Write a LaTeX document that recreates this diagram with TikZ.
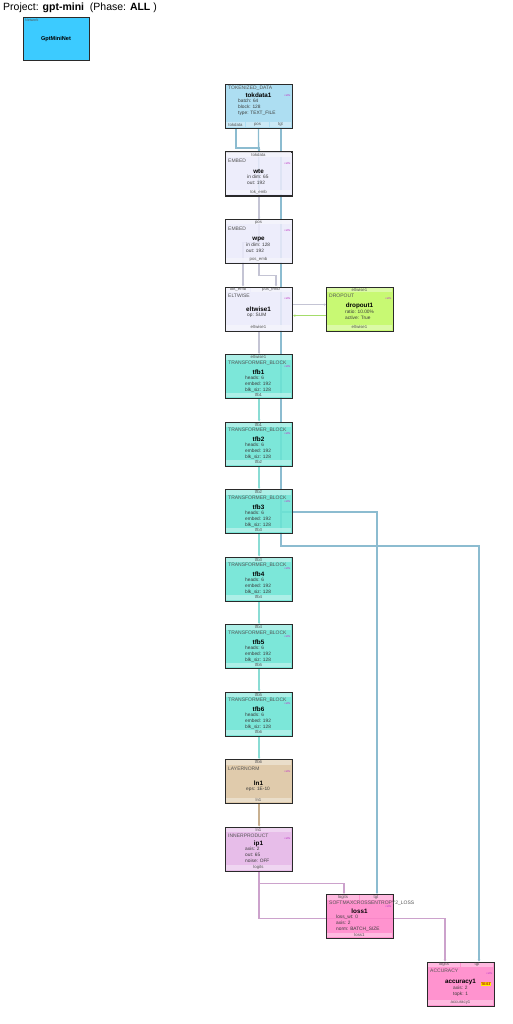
\documentclass[tikz,border=0pt]{standalone}
\usepackage{fontspec}
\setmainfont{Liberation Sans}
\usetikzlibrary{arrows.meta,backgrounds}
\definecolor{NetCyan}{HTML}{3CCBFF}
\definecolor{TokBlue}{HTML}{A2DAF0}
\definecolor{EmbLav}{HTML}{EAEAFA}
\definecolor{DropGreen}{HTML}{C0F860}
\definecolor{TfbTeal}{HTML}{6AE4D4}
\definecolor{LnTan}{HTML}{DCC4A0}
\definecolor{IpPlum}{HTML}{E4B4E6}
\definecolor{LossPink}{HTML}{FF84C8}
\definecolor{BoxEdge}{HTML}{2A2A2A}
\definecolor{TypeGray}{HTML}{555555}
\definecolor{ParamGray}{HTML}{3A3A3A}
\definecolor{TagMag}{HTML}{C040C8}
\definecolor{WireBlue}{HTML}{8CBCD0}
\definecolor{WireGray}{HTML}{C4C4D4}
\definecolor{WireTeal}{HTML}{8ADCD4}
\definecolor{WireGreen}{HTML}{A4DC6A}
\definecolor{WireTan}{HTML}{C8B090}
\definecolor{WirePlum}{HTML}{CCA2CC}

\begin{document}
\begin{tikzpicture}[x=1pt,y=-1pt,
  box/.style={draw=BoxEdge,line width=1.2pt,fill opacity=0.88,anchor=north west,minimum width=67pt,minimum height=44pt,inner sep=0pt},
  typelbl/.style={anchor=west,inner sep=0pt,text=TypeGray,font=\fontsize{5}{6}\selectfont},
  namelbl/.style={inner sep=0pt,font=\bfseries\fontsize{6.3}{7}\selectfont},
  paramlbl/.style={anchor=north west,inner sep=0pt,text=ParamGray,font=\fontsize{4.8}{6}\selectfont,align=left},
  portlbl/.style={inner sep=0pt,text=TypeGray,font=\fontsize{4.3}{5}\selectfont},
  enginelbl/.style={anchor=east,inner sep=0.3pt,text=TagMag,font=\fontsize{2.8}{3}\selectfont},
  wire/.style={line width=1.3pt,-{Stealth[length=2.2pt,width=2.6pt]}}]
  \useasboundingbox (0,0) rectangle (512,1024);

  \node[anchor=west,inner sep=0pt,font=\fontsize{10.5}{12}\selectfont] (title) at (3,8) {Project: \textbf{gpt-mini}\ \ (Phase: \textbf{ALL} )};
  \node[draw=BoxEdge,line width=1.2pt,fill=NetCyan,anchor=north west,minimum width=66pt,minimum height=43pt,inner sep=0pt] (net) at (23,17) {};
  \node[typelbl,font=\fontsize{3.6}{4}\selectfont] (net-type) at (25,20.5) {Network};
  \node[namelbl,font=\bfseries\fontsize{5.6}{6}\selectfont] (net-name) at (56,39) {GptMiniNet};

  \foreach \n/\bx/\by/\col/\ty/\tyy/\ny/\px/\prm in {
    tokdata1/225/84/TokBlue/TOKENIZED\_DATA/4/11/13/{batch: 64\\block: 128\\type: TEXT\_FILE},
    wte/225/151.5/EmbLav/EMBED/9.5/19.5/22/{in dim: 65\\out: 192},
    wpe/225/219/EmbLav/EMBED/10/20/21/{in dim: 128\\out: 192},
    eltwise1/225/286.5/EmbLav/ELTWISE/9.5/22.5/22/{op: SUM},
    dropout1/326/286.5/DropGreen/DROPOUT/9.5/19.5/19/{ratio: 10.00\%\\active: True},
    tfb1/225/354/TfbTeal/TRANSFORMER\_BLOCK/9/18/20/{heads: 6\\embed: 192\\blk\_siz: 128},
    tfb2/225/421.5/TfbTeal/TRANSFORMER\_BLOCK/9/18/20/{heads: 6\\embed: 192\\blk\_siz: 128},
    tfb3/225/489/TfbTeal/TRANSFORMER\_BLOCK/9/18/20/{heads: 6\\embed: 192\\blk\_siz: 128},
    tfb4/225/556.5/TfbTeal/TRANSFORMER\_BLOCK/9/18/20/{heads: 6\\embed: 192\\blk\_siz: 128},
    tfb5/225/624/TfbTeal/TRANSFORMER\_BLOCK/9/18/20/{heads: 6\\embed: 192\\blk\_siz: 128},
    tfb6/225/691.5/TfbTeal/TRANSFORMER\_BLOCK/9/18/20/{heads: 6\\embed: 192\\blk\_siz: 128},
    ln1/225/759/LnTan/LAYERNORM/10/24/21/{eps: 1E-10},
    ip1/225/826.5/IpPlum/INNERPRODUCT/9.5/17/20/{axis: 2\\out: 65\\noise: OFF},
    loss1/326/894/LossPink/SOFTMAXCROSSENTROPY2\_LOSS/9/17/10/{loss\_wt: 0\\axis: 2\\norm: BATCH\_SIZE},
    accuracy1/427/961.5/LossPink/ACCURACY/9.5/20.5/26/{axis: 2\\topk: 1}}{
    \node[box,fill=\col] (\n) at (\bx,\by) {};
    \node[typelbl] (\n-type) at (\bx+3,\by+\tyy) {\ty};
    \node[enginelbl] (\n-engine) at (\bx+66,\by+12) {caffe};
    \node[namelbl] (\n-name) at (\bx+33.5,\by+\ny) {\n};
    \node[paramlbl] (\n-params) at (\bx+\px,\by+\ny+3.8) {\prm};
  }
  \node[fill=yellow,text=red!70!black,inner sep=0.6pt,font=\bfseries\fontsize{3.8}{4}\selectfont] (accuracy1-test) at (486,984) {TEST};

  \foreach \a/\b/\y/\col/\txt [count=\k] in {
    226/245/122.5/TokBlue/tokdata, 246/269/122.5/TokBlue/pos, 270/291/122.5/TokBlue/tgt,
    226/291/152.5/EmbLav/tokdata, 226/291/190/EmbLav/tok\_emb,
    226/291/220/EmbLav/pos, 226/291/257.5/EmbLav/pos\_emb,
    226/250/287.5/EmbLav/tok\_emb, 251/291/287.5/EmbLav/pos\_emb, 226/291/325/EmbLav/eltwise1,
    327/392/287.5/DropGreen/eltwise1, 327/392/325/DropGreen/eltwise1,
    226/291/355/TfbTeal/eltwise1, 226/291/392.5/TfbTeal/tfb1,
    226/291/422.5/TfbTeal/tfb1, 226/291/460/TfbTeal/tfb2,
    226/291/490/TfbTeal/tfb2, 226/291/527.5/TfbTeal/tfb3,
    226/291/557.5/TfbTeal/tfb3, 226/291/595/TfbTeal/tfb4,
    226/291/625/TfbTeal/tfb4, 226/291/662.5/TfbTeal/tfb5,
    226/291/692.5/TfbTeal/tfb5, 226/291/730/TfbTeal/tfb6,
    226/291/760/LnTan/tfb6, 226/291/797.5/LnTan/ln1,
    226/291/827.5/IpPlum/ln1, 226/291/865/IpPlum/logits,
    327/359/895/LossPink/logits, 360/392/895/LossPink/tgt, 327/392/932.5/LossPink/loss1,
    428/460/962.5/LossPink/logits, 461/493/962.5/LossPink/tgt, 428/493/1000/LossPink/accuracy1}{
    \fill[\col!50!white,fill opacity=0.85] (\a,\y) rectangle (\b,\y+4.5);
    \node[portlbl] (port\k) at ({(\a+\b)/2},\y+2.3) {\txt};
  }

  \coordinate (tokdata1-tokdata) at (236,128);
  \coordinate (tokdata1-pos) at (258.5,128);
  \coordinate (tokdata1-tgt) at (281,128);
  \coordinate (eltwise1-tokemb) at (243,286.5);
  \coordinate (eltwise1-posemb) at (276,286.5);
  \coordinate (loss1-logits) at (344,894);
  \coordinate (loss1-tgt) at (377,894);
  \coordinate (accuracy1-logits) at (445,961.5);
  \coordinate (accuracy1-tgt) at (479,961.5);

  \begin{scope}[on background layer]
    \draw[wire,WireBlue] (tokdata1-tokdata) -- ++(0,20) -| (wte.north);
    \draw[wire,WireBlue] (tokdata1-pos) -- (wpe.north);
    \draw[wire,WireBlue] (tokdata1-tgt) -- ++(0,384) -| (loss1-tgt);
    \draw[wire,WireBlue] (tokdata1-tgt) -- ++(0,418) -| (accuracy1-tgt);
    \draw[wire,WireGray] (wte.south) -- ++(0,45.5) -| (eltwise1-tokemb);
    \draw[wire,WireGray] (wpe.south) -- ++(0,11) -| (eltwise1-posemb);
    \draw[wire,WireGray] (eltwise1.south) -- (tfb1.north);
    \draw[wire,WireGray] ([yshift=4.5pt]eltwise1.east) -- ([yshift=4.5pt]dropout1.west);
    \draw[wire,WireGreen] ([yshift=-6.5pt]dropout1.west) -- ([yshift=-6.5pt]eltwise1.east);
    \foreach \a/\b in {tfb1/tfb2,tfb2/tfb3,tfb3/tfb4,tfb4/tfb5,tfb5/tfb6,tfb6/ln1}
      \draw[wire,WireTeal] (\a.south) -- (\b.north);
    \draw[wire,WireTan] (ln1.south) -- (ip1.north);
    \draw[wire,WirePlum] (ip1.south) -- ++(0,12) -| (loss1-logits);
    \draw[wire,WirePlum] (ip1.south) -- ++(0,46.5) -| (accuracy1-logits);
  \end{scope}
\end{tikzpicture}
\end{document}
